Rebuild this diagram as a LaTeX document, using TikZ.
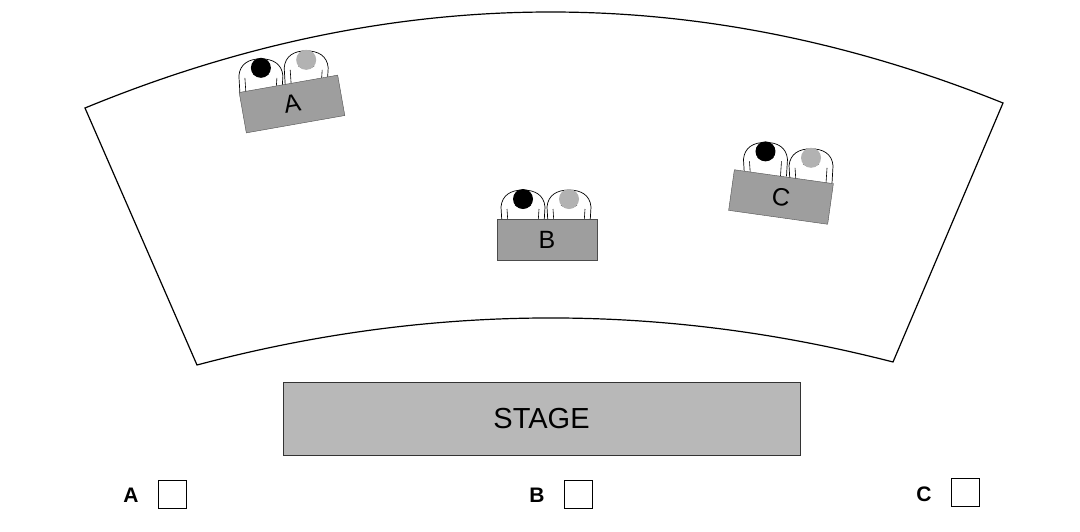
\documentclass[tikz,border=0pt]{standalone}
\usepackage{fontspec}
\setmainfont{Liberation Sans}
\begin{document}
\begin{tikzpicture}[x=1pt,y=-1pt,
  desk/.style={draw=black!70,fill=black!38,minimum width=100pt,minimum height=41pt,inner sep=0pt,font=\fontsize{25}{25}\selectfont,transform shape},
  checkbox/.style={draw,line width=1pt,minimum size=28pt,inner sep=0pt},
  lab/.style={font=\fontsize{21}{21}\selectfont\bfseries},
  person/.pic={
    \draw[fill=white,line width=0.7pt] (-21,27) -- (-22,10) .. controls (-21,-2) and (-12,-7) .. (0,-7) .. controls (12,-7) and (21,-2) .. (22,10) -- (21,27);
    \draw[line width=0.6pt] (-15,27) -- (-16,12) (15,27) -- (16,12);
    \draw[line width=0.6pt] (-8,8) .. controls (-3,12) and (3,12) .. (8,8);
    \fill[#1] (0,2) circle (10);
  }]
\useasboundingbox (0,0) rectangle (1080,531);
% hall
\coordinate (o1) at (85,108); \coordinate (o2) at (1003,103);
\coordinate (i1) at (197,365); \coordinate (i2) at (893,362);
\draw[line width=1.2pt] (o1) .. controls (391.7,-18.3) and (697.7,-20) .. (o2) -- (i2)
  .. controls (661,302.3) and (429,303.3) .. (i1) -- cycle;
% desks
\begin{scope}[shift={(292,104)},rotate=10]
  \pic at (-24,-43) {person=black};
  \pic at (22,-43) {person=black!30};
  \node[desk] (dA) at (0,0) {A};
\end{scope}
\begin{scope}[shift={(547,240)}]
  \pic at (-24,-43) {person=black};
  \pic at (22,-43) {person=black!30};
  \node[desk] (dB) at (0,0) {B};
\end{scope}
\begin{scope}[shift={(781,197)},rotate=-8]
  \pic at (-22,-45) {person=black};
  \pic at (24,-45) {person=black!30};
  \node[desk] (dC) at (0,0) {C};
\end{scope}
% stage
\node[draw=black!80,fill=black!28,minimum width=517pt,minimum height=73pt,inner sep=0pt,font=\fontsize{29}{29}\selectfont] (stage) at (541.5,418.5) {\raisebox{-5pt}{STAGE}};
% answer boxes
\node[lab] (lA) at (131,495) {A}; \node[checkbox] (bA) at (172,494) {};
\node[lab] (lB) at (537,495) {B}; \node[checkbox] (bB) at (578,494) {};
\node[lab] (lC) at (924,494) {C}; \node[checkbox] (bC) at (965,492) {};
\end{tikzpicture}
\end{document}
